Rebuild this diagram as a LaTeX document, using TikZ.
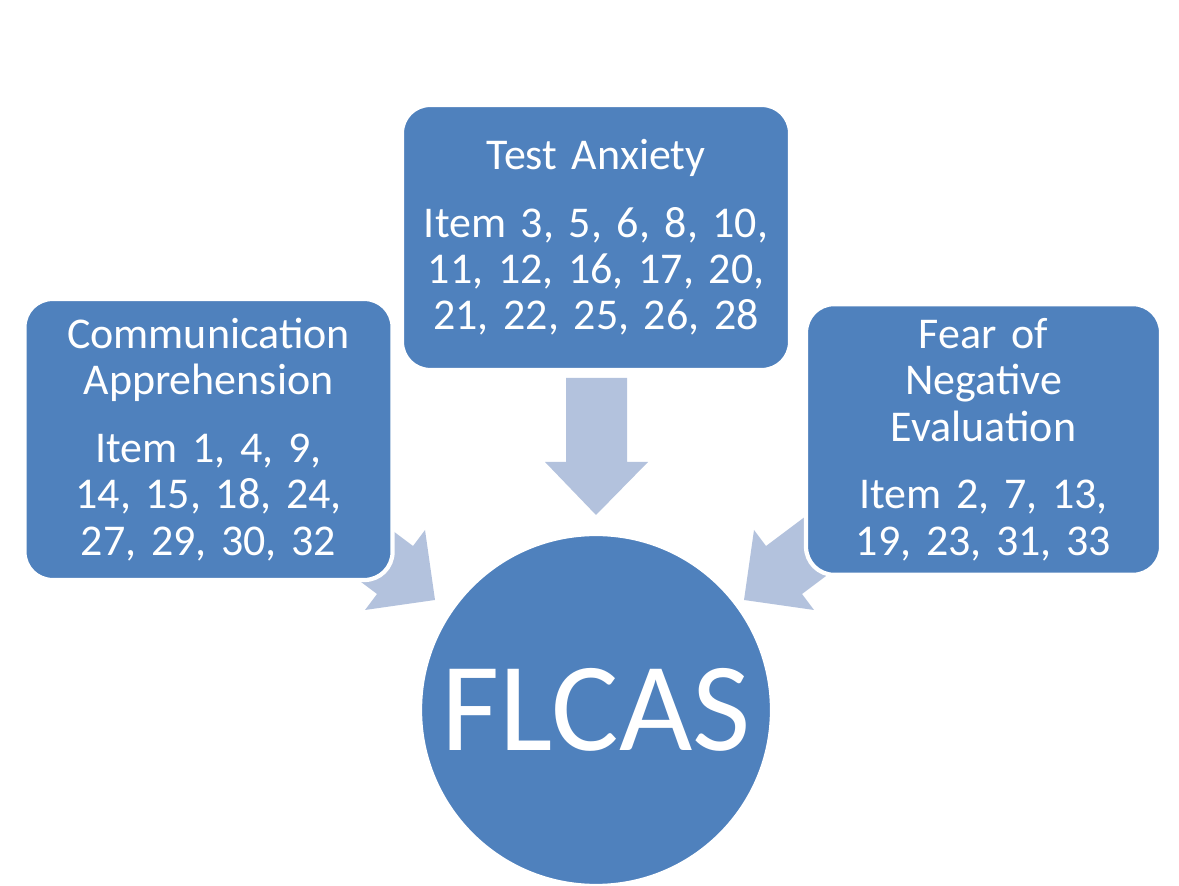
\documentclass[tikz,border=0pt]{standalone}
\usepackage{fontspec}
\setmainfont{Carlito}
\definecolor{boxblue}{HTML}{4F81BD}
\definecolor{arrowblue}{HTML}{B3C2DD}
\tikzset{
  factor/.style={draw=white, line width=1.2pt, fill=boxblue, rounded corners=8pt,
    text=white, align=center, font=\fontsize{12.5}{13.2}\selectfont, inner sep=4pt},
  flow/.style={fill=arrowblue, draw=none}
}
\begin{document}
\begin{tikzpicture}[x=0.01cm, y=-0.01cm]
        \useasboundingbox (0,0) rectangle (1179,886);
        % arrows behind the boxes
        \fill [flow] (566,378) -- (627,378) -- (627,462) -- (648,462) -- (596,515) -- (545,462) -- (566,462) -- cycle;
        \fill [flow] (329,558) -- (365,510) -- (413,546) -- (425,530) -- (435,600) -- (365,610) -- (377,594) -- cycle;
        \fill [flow] (850,558) -- (814,510) -- (766,546) -- (754,530) -- (744,600) -- (814,610) -- (802,594) -- cycle;
        % boxes
        \node (test) [factor, minimum width=388*0.01cm, minimum height=265*0.01cm, text width=360*0.01cm] at (596,237.5)
          {Test Anxiety\\[6pt] Item 3, 5, 6, 8, 10, 11, 12, 16, 17, 20, 21, 22, 25, 26, 28};
        \node (comm) [factor, minimum width=363*0.01cm, minimum height=281*0.01cm, text width=340*0.01cm] at (208.5,439.5)
          {Communication Apprehension\\[6pt] Item 1, 4, 9, 14, 15, 18, 24, 27, 29, 30, 32};
        \node (fear) [factor, minimum width=355*0.01cm, minimum height=265*0.01cm, text width=300*0.01cm] at (983.5,439.5)
          {Fear of Negative Evaluation\\[6pt] Item 2, 7, 13, 19, 23, 31, 33};
        % centre
        \node (flcas) [circle, fill=boxblue, draw=white, line width=1.2pt, minimum size=352*0.01cm, text=white,
          font=\fontsize{36}{40}\selectfont] at (596,710) {FLCAS};
\end{tikzpicture}
\end{document}
